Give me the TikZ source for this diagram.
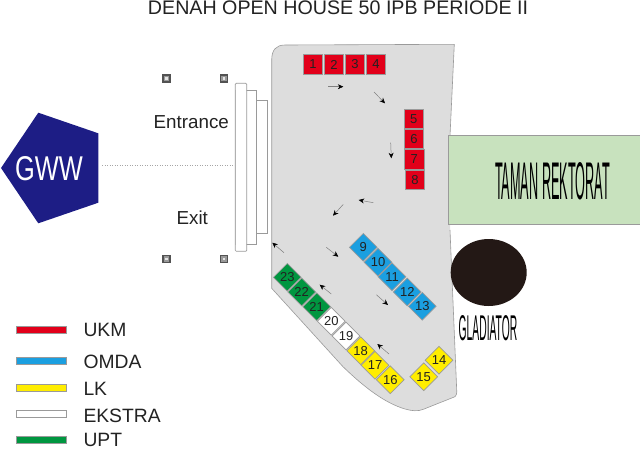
\documentclass[tikz,border=0pt]{standalone}
\usepackage{fontspec}
\setmainfont{Liberation Sans}
\usetikzlibrary{arrows.meta,shapes.geometric}
\definecolor{ukm}{HTML}{E2001A}
\definecolor{omda}{HTML}{1B9FE0}
\definecolor{lkc}{HTML}{FFED00}
\definecolor{upt}{HTML}{009640}
\definecolor{navy}{HTML}{1D1D85}
\definecolor{site}{HTML}{DDDDDD}
\definecolor{park}{HTML}{C8E2BE}
\definecolor{edgec}{HTML}{9A9A9A}
\definecolor{ink}{HTML}{222222}
\definecolor{arenac}{HTML}{231815}
\tikzset{
  stand/.style={draw=edgec,line width=.7pt,minimum width=19.5pt,minimum height=19.5pt,inner sep=0pt,text=ink,font=\fontsize{13}{13}\selectfont},
  dstand/.style={stand,rotate=45,minimum width=19.6pt,minimum height=19.6pt},
  flow/.style={draw=gray,line width=.5pt,-{Stealth[black,length=5.5pt,width=5pt]}},
  gate/.style={draw=edgec,fill=white,line width=.7pt},
  bar/.style={draw=edgec,line width=.5pt,minimum width=50pt,minimum height=7pt,inner sep=0pt},
  legendtext/.style={anchor=west,inner sep=0pt,text=ink,font=\fontsize{19.3}{19.3}\selectfont},
  plain/.style={inner sep=0pt,text=ink,font=\fontsize{18.8}{18.8}\selectfont}
}
\newcommand{\upright}[1]{\rotatebox{-45}{#1}}
\begin{document}
\begin{tikzpicture}[x=1pt,y=-1pt]
\useasboundingbox (0,0) rectangle (640,448);
% site
\fill[site] (271.7,60) .. controls (271.7,50) and (276,45) .. (285,45) -- (454.3,44.3) -- (450,136) -- (450,230) -- (456.7,390) .. controls (457,394) and (456,396) .. (455,396.7) -- (423.3,409.3) .. controls (418,411.5) and (412,411) .. (405,409) .. controls (385,403) and (365,388) .. (343,366.7) -- (271.7,288.3) -- cycle;
\draw[edgec,line width=.6pt] (450,136) -- (454.3,44.3) -- (285,45) .. controls (276,45) and (271.7,50) .. (271.7,60) -- (271.7,288.3) -- (343,366.7) .. controls (365,388) and (385,403) .. (405,409) .. controls (412,411) and (418,411.5) .. (423.3,409.3) -- (455,396.7) .. controls (456,396) and (457,394) .. (456.7,390) -- (450,230);
% park
\node[draw=edgec,fill=park,line width=.6pt,minimum width=192pt,minimum height=88.3pt,inner sep=0pt] (park) at (544.3,179.8) {};
\node[inner sep=0pt,text=black] (parklabel) at (552.5,181.5) {\resizebox{115pt}{37pt}{TAMAN REKTORAT}};
% gladiator
\node[ellipse,fill=arenac,minimum width=76pt,minimum height=67pt,inner sep=0pt] (arena) at (488.7,272.5) {};
\node[inner sep=0pt,text=black] (arenalabel) at (488,328) {\resizebox{58.6pt}{25pt}{GLADIATOR}};
% title
\node[inner sep=0pt,text=ink] (title) at (338,7.8) {\resizebox{380pt}{!}{\fontsize{18}{18}\selectfont DENAH OPEN HOUSE 50 IPB PERIODE II}};
% GWW
\fill[navy] (38.3,112.7) -- (98.3,133.3) -- (98.3,202.7) -- (38.3,223.3) -- (1,168) -- cycle;
\node[inner sep=0pt,text=white] (gww) at (49,168.5) {\resizebox{67.7pt}{24pt}{GWW}};
\draw[gray!70,dotted,line width=.5pt] (102,165.5) -- (235.3,165.5);
% gates
\draw[gate] (246.7,100) rectangle (267.7,233.7);
\draw[gate] (235.3,90.3) rectangle (256.3,244.3);
\draw[gate,rounded corners=1pt] (235.3,83.3) rectangle (246.7,251.3);
% lamps
\foreach \n/\x/\y in {la/166.7/78.3,lb/224/78.3,lc/166.7/259,ld/224/259}{
  \node[fill=black!68,minimum size=8.5pt,inner sep=0pt] (\n) at (\x,\y) {};
  \fill[black!40] (\x-2.6,\y-2.6) rectangle (\x+2.6,\y+2.6);
  \fill[black!10] (\x-1.3,\y-1.3) rectangle (\x+1.3,\y+1.3);
}
\node[plain] (entrance) at (191.3,122) {Entrance};
\node[plain] (exit) at (192.3,217.3) {Exit};
% red stands
\foreach \t/\x/\y in {1/313/64.5,2/334/64.5,3/355/64.5,4/376/64.5,5/413.7/118.7,6/414/139,7/414.3/159.3,8/415/179.7}
  \node[stand,fill=ukm] (s\t) at (\x,\y) {\t};
% diamond stands
\foreach \t/\x/\y in {9/363.3/247.3,10/378/262.3,11/392/276.7,12/407.3/292,13/422.3/306.3}
  \node[dstand,fill=omda] (s\t) at (\x,\y) {\upright{\t}};
\foreach \t/\x/\y in {14/439/360.3,15/423.7/376.7,16/390.3/379.7,17/375/365.3,18/360.7/350.7}
  \node[dstand,fill=lkc] (s\t) at (\x,\y) {\upright{\t}};
\foreach \t/\x/\y in {19/346/336,20/331.3/321.3}
  \node[dstand,fill=white] (s\t) at (\x,\y) {\upright{\t}};
\foreach \t/\x/\y in {21/316.7/306.7,22/301.7/292,23/287.3/277.3}
  \node[dstand,fill=upt] (s\t) at (\x,\y) {\upright{\t}};
% flow arrows
\foreach \a/\b/\c/\d in {328.3/86.7/343.3/86.7,374/92/385/103.3,390.7/142.7/391.3/158.3,373.3/202.7/358.7/200,343.3/204.3/333/215.7,284/252.7/272.3/242.7,326.3/247.3/338.3/256.7,331.3/294/319.7/284.7,376.3/294.7/388/305,389/354/377.3/344}
  \draw[flow] (\a,\b) -- (\c,\d);
% legend
\node[bar,fill=ukm] (k1) at (41,329.8) {};
\node[bar,fill=omda] (k2) at (41,360.8) {};
\node[bar,fill=lkc] (k3) at (41,387.7) {};
\node[bar,fill=white] (k4) at (41,414) {};
\node[bar,fill=upt] (k5) at (41,439.8) {};
\node[legendtext] (t1) at (83.3,330) {UKM};
\node[legendtext] (t2) at (83.3,361.7) {OMDA};
\node[legendtext] (t3) at (83.3,389.3) {LK};
\node[legendtext] (t4) at (83.3,415.7) {EKSTRA};
\node[legendtext] (t5) at (83.3,440) {UPT};
\end{tikzpicture}
\end{document}
